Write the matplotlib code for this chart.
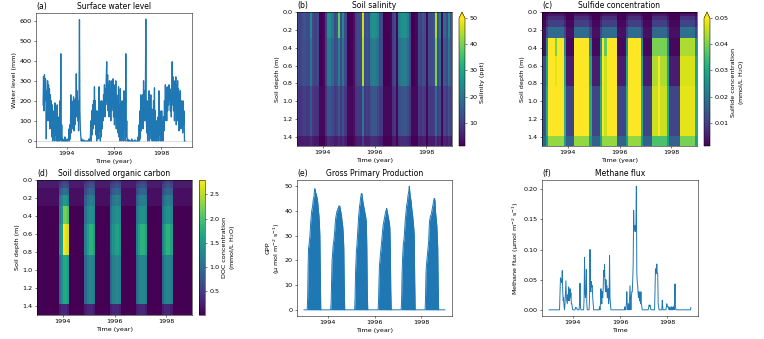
import numpy as np
import matplotlib
matplotlib.use("Agg")
import matplotlib.pyplot as plt

# ---------------- data ----------------
years = [1993, 1994, 1995, 1996, 1997, 1998]

# (a) surface water level (mm), weekly values per year
water_1993 = [180,320,150,330,200,310,300,10,250,120,300,100,280,150,260,60,230,90,200,20,180,0,150,40,120,0,
              190,30,100,0,60,180,0,20,0,120,0,200,10,435,0,80,0,10,0,5,0,0,20,0,0,0]
water_1994 = [0,10,0,0,5,60,0,80,10,230,40,200,60,180,100,220,50,200,80,210,150,335,120,250,100,200,
              50,180,605,150,60,20,0,10,0,0,0,5,0,0,0,0,0,0,0,0,0,0,0,10,0,0]
water_1995 = [20,100,0,150,30,180,60,200,100,270,80,200,30,150,0,120,40,150,10,270,50,200,0,140,20,200,
              60,180,100,230,150,280,120,260,180,320,395,200,330,150,280,120,300,180,250,100,300,150,270,200,310,120]
water_1996 = [280,80,250,120,300,60,230,100,200,40,270,20,180,0,260,10,150,0,200,30,120,0,250,60,150,0,
              435,20,100,0,10,0,0,5,0,0,0,0,0,10,0,0,0,0,0,0,5,0,0,0,0,0]
water_1997 = [0,20,0,80,0,150,10,230,50,200,100,230,60,300,150,250,100,200,608,120,40,200,0,180,30,250,
              0,150,60,230,10,160,0,120,40,200,0,265,20,150,0,100,0,80,20,120,0,250,30,150,0,100]
water_1998 = [0,150,20,100,0,120,50,200,100,280,120,250,100,270,150,230,180,280,200,260,150,230,120,200,395,180,
              320,150,300,100,250,200,320,80,280,150,300,100,260,50,230,120,250,60,200,100,180,40,200,80,150,0]
water_1999 = [0]

# (e) gross primary production, weekly upper envelope
gpp_1993 = [0,0,0,0,0,0,0,0,5,18,25,26,28,30,33,36,38,40,41,42,44,45,46,48,49,48,47,47,46,45,44,42,40,38,35,30,15,
            0,0,0,0,0,0,0,0,0,0,0,0,0,0,0]
gpp_1994 = [0,0,0,0,0,0,0,0,3,12,20,22,25,27,28,30,32,35,37,38,39,40,40,41,41,42,42,42,41,40,39,38,36,35,33,30,25,10,
            0,0,0,0,0,0,0,0,0,0,0,0,0,0]
gpp_1995 = [0,0,0,0,0,0,0,0,0,5,15,20,24,26,29,32,35,38,40,42,43,45,46,47,47,46,44,43,42,41,40,39,38,37,35,25,8,
            0,0,0,0,0,0,0,0,0,0,0,0,0,0,0]
gpp_1996 = [0,0,0,0,0,0,0,0,0,4,12,18,20,22,24,26,28,30,32,34,35,36,37,38,39,40,40,41,40,39,38,37,36,35,33,25,8,
            0,0,0,0,0,0,0,0,0,0,0,0,0,0,0]
gpp_1997 = [0,0,0,0,0,0,0,0,4,14,20,24,27,28,30,33,36,38,40,42,43,44,46,47,48,50,48,46,45,44,42,40,39,37,35,33,30,12,
            0,0,0,0,0,0,0,0,0,0,0,0,0,0]
gpp_1998 = [0,0,0,0,0,0,0,0,0,5,15,18,20,22,24,26,28,33,36,37,38,38,39,40,41,42,43,44,45,45,44,40,38,36,34,30,25,10,
            0,0,0,0,0,0,0,0,0,0,0,0,0,0]
gpp_1999 = [0]

# (f) methane flux: week index (from 1993-01-01) and value (umol m-2 s-1); baseline 0 elsewhere
methane_weeks = [24,25,26,27,28,29,30,31,32,33,35,36,37,38,39,40,41,42,43,44,45,46,47,48,49,50,51,
                 58,59,60,61,67,68,69,77,78,79,80,81,82,83,89,90,91,92,93,94,95,96,97,
                 111,113,114,115,116,117,118,119,120,121,122,123,124,125,126,127,128,129,130,131,132,133,134,135,
                 167,170,171,172,175,177,178,179,181,182,183,184,185,186,187,188,189,190,191,192,193,194,195,196,
                 197,198,199,200,201,202,203,204,
                 219,220,221,222,223,233,234,235,236,237,238,239,240,241,249,250,
                 258,259,260,261,262,263,265,268,269,271,273,274,276,277,278,312]
methane_flux = [.03,.053,.05,.048,.045,.065,.03,.015,.02,.005,.01,.03,.048,.02,.015,.01,.025,.015,.038,.02,.015,.035,
                .02,.028,.01,.01,.005,
                .004,.004,.003,.003,.01,.044,.005,.02,.087,.03,.02,.03,.067,.01,.02,.10,.035,.03,.047,.038,.04,.02,.01,
                .005,.01,.035,.02,.01,.03,.02,.035,.065,.055,.075,.045,.03,.05,.03,.04,.02,.02,.035,.01,.02,.09,.02,.01,
                .005,.01,.03,.01,.01,.02,.04,.02,.02,.03,.03,.05,.075,.165,.13,.135,.14,.13,.135,.205,.06,.045,.04,.025,
                .02,.03,.015,.02,.01,.03,.01,.005,
                .004,.008,.006,.008,.004,.03,.068,.06,.065,.076,.06,.06,.01,.005,.016,.004,
                .005,.01,.006,.005,.004,.005,.004,.005,.005,.004,.005,.005,.01,.043,.005,.004]
methane_n_weeks = 313

# soil layer node depths (m)
depth_nodes = [0.0071, 0.0279, 0.0623, 0.1189, 0.2122, 0.3661, 0.6198, 1.0380, 1.7276]

# (b) salinity (ppt), monthly 1993-1998, one row per layer group
sal_top = [12,10,12,14,12,12,24,12,10,11,1,1,
           2,10,25,25,20,12,14,38,12,24,12,1,
           1,1,3,10,12,12,46,12,14,12,24,26,
           25,22,12,12,1,1,1,2,10,12,2,22,
           24,26,25,22,12,1,1,2,12,10,14,12,
           2,12,12,14,44,14,22,2,18,12,24,14]
sal_mid = [12,10,12,13,12,12,20,12,10,11,1,1,
           2,10,21,21,17,12,13,22,12,20,12,1,
           1,1,3,10,12,12,44,12,13,12,20,22,
           21,18,12,12,1,1,1,2,10,12,2,18,
           20,22,21,18,12,1,1,2,12,10,13,12,
           2,12,12,13,40,13,18,2,15,12,20,13]
sal_deep = [9,8,9,10,9,9,14,9,8,8,2,2,
            2,8,14,14,12,9,10,14,9,13,9,2,
            2,2,3,8,9,9,20,9,10,9,13,14,
            14,12,9,9,2,2,2,2,8,9,2,12,
            13,14,14,12,9,2,2,2,9,8,10,9,
            2,9,9,10,18,10,12,2,11,9,13,10]
sal_bottom = [5,4,5,5,5,5,7,5,4,4,1,1,
              1,4,7,7,6,5,5,7,5,7,5,1,
              1,1,2,4,5,5,10,5,5,5,7,7,
              7,6,5,5,1,1,1,1,4,5,1,6,
              7,7,7,6,5,1,1,1,5,4,5,5,
              1,5,5,5,9,5,6,1,6,5,7,5]

# (c) sulfide (0.001 mmol/L H2O), monthly, layers 0..8
sulf_L0 = [1,1,1,2,2,2,2,2,2,2,1,1, 1,1,1,2,2,2,2,2,2,2,1,1, 1,1,1,1,2,2,2,2,2,2,2,1,
           1,1,1,1,2,2,2,2,2,2,1,1, 1,1,1,2,2,2,2,2,2,2,1,1, 1,1,1,1,2,2,2,2,2,2,2,1]
sulf_L1 = [1,1,2,4,4,4,4,4,4,4,2,1, 1,1,1,4,4,4,4,4,4,4,2,1, 1,1,1,2,4,4,4,4,4,4,4,1,
           1,1,1,2,4,4,4,4,4,4,2,1, 1,1,1,4,4,4,4,4,4,4,2,1, 1,1,1,1,4,4,4,4,4,4,4,2]
sulf_L2 = [1,1,4,7,7,7,7,7,7,7,4,1, 1,1,1,7,7,7,7,7,7,7,4,1, 1,1,1,4,7,7,7,7,7,7,7,1,
           1,1,1,4,7,7,7,7,7,7,4,1, 1,1,1,7,7,7,7,7,7,7,4,1, 1,1,1,1,8,8,8,8,8,8,8,4]
sulf_L3 = [2,2,6,10,10,10,10,10,10,10,6,2, 2,2,2,10,10,10,10,10,10,10,6,2, 2,2,2,6,10,10,10,10,10,10,10,2,
           2,2,2,6,10,10,10,10,10,10,6,2, 2,2,2,10,10,10,10,10,10,10,6,2, 2,2,2,2,11,11,11,11,11,11,11,6]
sulf_L4 = [3,3,11,18,18,18,18,18,18,18,11,3, 3,3,3,18,18,18,18,18,18,18,11,3, 3,3,3,11,18,18,18,18,18,18,18,3,
           3,3,3,11,18,18,18,18,18,18,11,3, 3,3,3,17,17,17,17,17,17,17,11,3, 3,3,3,3,19,19,19,19,19,19,19,11]
sulf_L5 = [3,3,25,52,52,52,40,52,52,52,25,2, 2,2,2,52,52,52,52,52,52,52,25,2, 2,2,2,25,52,38,52,52,52,52,52,2,
           2,2,2,25,52,52,52,52,52,52,25,2, 2,2,2,40,40,40,40,40,40,40,25,2, 2,2,2,2,44,44,44,44,44,44,44,25]
sulf_L6 = [12,12,30,58,58,58,48,58,58,58,30,5, 5,5,5,58,58,58,58,58,58,58,30,5, 5,5,5,30,58,46,58,58,58,58,58,5,
           5,5,5,30,58,58,58,58,58,58,30,5, 5,5,5,44,44,44,52,44,44,44,30,5, 5,5,5,5,47,47,47,47,47,47,47,30]
sulf_L7 = [13,13,32,58,58,58,58,58,58,58,32,11, 11,11,11,58,58,58,58,58,58,58,32,11,
           11,11,11,32,58,46,58,58,58,58,58,11, 11,11,11,32,58,58,58,58,58,58,32,11,
           11,11,11,46,46,46,54,46,46,46,32,11, 11,11,11,11,48,48,48,48,48,48,48,32]
sulf_L8 = [16,16,28,42,42,42,42,42,42,42,28,16, 16,16,16,42,42,42,42,42,42,42,28,16,
           16,16,16,28,42,42,42,42,42,42,42,16, 16,16,16,28,42,42,42,42,42,42,28,16,
           16,16,16,36,36,36,36,36,36,36,28,16, 16,16,16,16,40,40,40,40,40,40,40,28]

# (d) DOC (0.1 mmol/L H2O), monthly, layers 0..8
doc_L0 = [2,2,2,2,2,2,2,2,2,2,3,4, 5,5,4,2,2,2,2,2,2,2,3,4, 5,5,4,2,2,2,2,2,2,2,3,4,
          5,5,4,2,2,2,2,2,2,2,3,4, 5,5,4,2,2,2,2,2,2,2,3,4, 5,5,4,2,2,2,2,2,2,2,2,2]
doc_L1 = [2,2,2,2,2,2,2,2,2,2,4,5, 6,6,5,2,2,2,2,2,2,2,4,5, 6,6,5,2,2,2,2,2,2,2,4,5,
          6,6,5,2,2,2,2,2,2,2,4,5, 6,6,5,2,2,2,2,2,2,2,4,5, 6,6,5,2,2,2,2,2,2,2,2,2]
doc_L2 = [2,2,2,2,2,2,2,2,2,2,5,6, 7,7,6,2,2,2,2,2,2,2,5,6, 7,7,6,2,2,2,2,2,2,2,5,6,
          7,7,6,2,2,2,2,2,2,2,5,6, 7,7,6,2,2,2,2,2,2,2,5,6, 7,7,6,2,2,2,2,2,2,2,2,2]
doc_L3 = [1,1,1,1,1,1,1,1,1,1,7,9, 10,10,9,1,1,1,1,1,1,1,6,8, 9,9,8,1,1,1,1,1,1,1,6,8,
          9,9,8,1,1,1,1,1,1,1,6,8, 9,9,8,1,1,1,1,1,1,1,6,8, 9,9,8,1,1,1,1,1,1,1,1,1]
doc_L4 = [1,1,1,1,1,1,1,1,1,1,10,13, 15,15,13,1,1,1,1,1,1,1,8,11, 12,12,11,1,1,1,1,1,1,1,8,11,
          12,12,11,1,1,1,1,1,1,1,8,11, 12,12,11,1,1,1,1,1,1,1,8,11, 12,12,11,1,1,1,1,1,1,1,1,1]
doc_L5 = [0,0,0,0,0,0,0,0,0,0,12,14, 22,22,20,0,0,0,0,0,0,0,10,13, 14,14,13,0,0,0,0,0,0,0,10,13,
          14,14,13,0,0,0,0,0,0,0,10,13, 14,14,13,0,0,0,0,0,0,0,10,13, 14,14,13,0,0,0,0,0,0,0,0,0]
doc_L6 = [0,0,0,0,0,0,0,0,0,0,14,16, 28,27,26,0,0,0,0,0,0,0,12,16, 18,18,16,0,0,0,0,0,0,0,11,14,
          16,16,14,0,0,0,0,0,0,0,12,16, 18,18,16,0,0,0,0,0,0,0,12,16, 18,18,16,0,0,0,0,0,0,0,0,0]
doc_L7 = [0,0,0,0,0,0,0,0,0,0,10,14, 17,17,15,0,0,0,0,0,0,0,9,12, 13,13,12,0,0,0,0,0,0,0,9,12,
          13,13,12,0,0,0,0,0,0,0,9,12, 13,13,12,0,0,0,0,0,0,0,9,12, 13,13,12,0,0,0,0,0,0,0,0,0]
doc_L8 = [0,0,0,0,0,0,0,0,0,0,2,3, 3,3,2,0,0,0,0,0,0,0,2,3, 3,3,2,0,0,0,0,0,0,0,2,3,
          3,3,2,0,0,0,0,0,0,0,2,3, 3,3,2,0,0,0,0,0,0,0,2,3, 3,3,2,0,0,0,0,0,0,0,0,0]

year_ticks = [1994, 1996, 1998]

# ---------------- helpers ----------------
def weekly(series_by_year, yrs):
    t, v = [], []
    for y, s in zip(yrs, series_by_year):
        t.extend(y + np.arange(len(s)) / 52.0)
        v.extend(s)
    return np.array(t), np.array(v, dtype=float)

t_water, water = weekly([water_1993, water_1994, water_1995, water_1996, water_1997, water_1998, water_1999],
                        years + [1999])
t_gpp, gpp = weekly([gpp_1993, gpp_1994, gpp_1995, gpp_1996, gpp_1997, gpp_1998, gpp_1999], years + [1999])
t_ch4 = 1993 + np.arange(methane_n_weeks) / 52.0
ch4 = np.zeros(methane_n_weeks)
ch4[np.array(methane_weeks)] = methane_flux

n_month = len(sal_top)
t_month = 1993 + (np.arange(n_month) + 0.5) / 12.0
sal = np.array([sal_top, sal_top, sal_top, sal_top, sal_top, sal_mid, sal_mid, sal_deep, sal_bottom], dtype=float)
sulf = np.array([sulf_L0, sulf_L1, sulf_L2, sulf_L3, sulf_L4, sulf_L5, sulf_L6, sulf_L7, sulf_L8], dtype=float) * 0.001
doc = np.array([doc_L0, doc_L1, doc_L2, doc_L3, doc_L4, doc_L5, doc_L6, doc_L7, doc_L8], dtype=float) * 0.1

# ---------------- figure ----------------
DPI = 46
fig = plt.figure(figsize=(764 / DPI, 339 / DPI), dpi=DPI)
W, H = 764.0, 339.0

def box(l, r, t, b):
    return [l / W, 1 - b / H, (r - l) / W, (b - t) / H]

blue = "#1f77b4"

def titles(ax, lab, txt):
    ax.set_title(lab, loc="left")
    ax.set_title(txt)

# (a)
ax = fig.add_axes(box(36, 192, 13, 147))
ax.axhline(0, color="lightgray", lw=1.2, zorder=0)
ax.plot(t_water, water, color=blue, lw=2.0)
ax.set_xticks(year_ticks)
ax.set_xticklabels([str(y) for y in year_ticks])
ax.set_ylabel("Water level (mm)")
ax.set_xlabel("Time (year)")
titles(ax, "(a)", "Surface water level")

def heat(axbox, cbox, data, label, ticks, lab, title, extend, vmin, vmax):
    ax = fig.add_axes(box(*axbox))
    m = ax.pcolormesh(t_month, depth_nodes, data, shading="nearest", cmap="viridis", vmin=vmin, vmax=vmax)
    ax.set_ylim(1.5, 0)
    ax.set_xlim(1993, 1999)
    ax.set_yticks([0.0, 0.2, 0.4, 0.6, 0.8, 1.0, 1.2, 1.4])
    ax.set_xticks(year_ticks)
    ax.set_xticklabels([str(y) for y in year_ticks])
    ax.set_ylabel("Soil depth (m)")
    ax.set_xlabel("Time (year)")
    titles(ax, lab, title)
    cax = fig.add_axes(box(*cbox))
    cb = fig.colorbar(m, cax=cax, extend=extend, ticks=ticks)
    cb.set_label(label)
    return ax

heat((297, 452, 12, 146), (459, 465, 12, 146), sal, "Salinity (ppt)", [10, 20, 30, 40, 50],
     "(b)", "Soil salinity", "max", sal.min(), 50)
heat((542, 697, 12, 146), (704, 710, 12, 146), sulf, "Sulfide concentration\n(mmol/L H$_2$O)",
     [0.01, 0.02, 0.03, 0.04, 0.05], "(c)", "Sulfide concentration", "max", sulf.min(), 0.05)
heat((37, 192, 180, 315), (199, 205, 180, 315), doc, "DOC concentration\n(mmol/L H$_2$O)",
     [0.5, 1.0, 1.5, 2.0, 2.5], "(d)", "Soil dissolved organic carbon", "neither", 0, doc.max())

# (e)
ax = fig.add_axes(box(297, 452, 180, 316))
ax.fill_between(t_gpp, 0, gpp, color=blue, lw=0)
ax.plot(t_gpp, gpp, color=blue, lw=1.5)
ax.set_xticks(year_ticks)
ax.set_xticklabels([str(y) for y in year_ticks])
ax.set_ylabel("GPP\n(\u03bc mol m$^{-2}$ s$^{-1}$)")
ax.set_xlabel("Time (year)")
titles(ax, "(e)", "Gross Primary Production")

# (f)
ax = fig.add_axes(box(542, 698, 180, 316))
ax.plot(t_ch4, ch4, color=blue, lw=1.5)
ax.set_xticks(year_ticks)
ax.set_xticklabels([str(y) for y in year_ticks])
ax.set_ylabel("Methane flux (\u03bcmol m$^{-2}$ s$^{-1}$)")
ax.set_xlabel("Time")
titles(ax, "(f)", "Methane flux")

fig.savefig("out.png", dpi=DPI)
